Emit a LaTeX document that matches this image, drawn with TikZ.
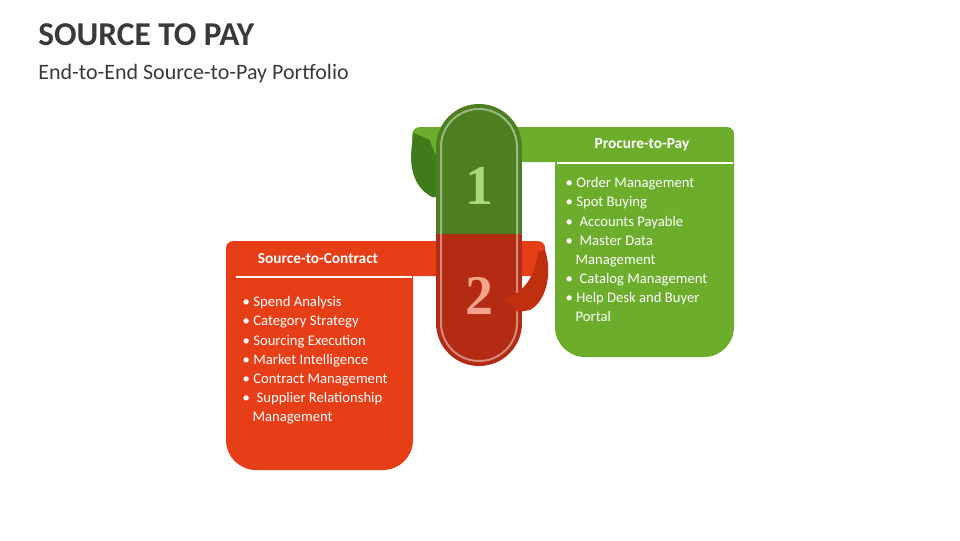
\documentclass[tikz,border=0pt]{standalone}
\usepackage{fontspec}
\setmainfont{Carlito}
\newfontfamily\numfont{Liberation Serif}
\definecolor{gband}{HTML}{6CAD2B}
\definecolor{gdark}{HTML}{4D7F21}
\definecolor{gcurl}{HTML}{3F7A1C}
\definecolor{rband}{HTML}{E63E17}
\definecolor{rdark}{HTML}{B22B12}
\definecolor{rcurl}{HTML}{C0300F}
\definecolor{titlec}{HTML}{3A3A3A}
\definecolor{numg}{HTML}{A9D77A}
\definecolor{numr}{HTML}{F5A38A}
\begin{document}
\begin{tikzpicture}[x=0.75pt,y=-0.75pt,
  hdr/.style={text=white,font=\bfseries\fontsize{11.5}{13}\selectfont},
  lst/.style={text=white,font=\fontsize{11}{14.3}\selectfont,align=left,anchor=north west},
  sep/.style={white,line width=1.2pt}]
\useasboundingbox (0,0) rectangle (960,540);
\node[anchor=west,inner sep=0,text=titlec,font=\bfseries\fontsize{25}{28}\selectfont] (title) at (38,35) {SOURCE TO PAY};
\node[anchor=west,inner sep=0,text=titlec,font=\fontsize{16.5}{19}\selectfont] (sub) at (38,74) {End-to-End Source-to-Pay Portfolio};
% green band and box
\fill[gband] (420,127) -- (727,127) arc[start angle=270,end angle=360,radius=7] -- (734,327) arc[start angle=0,end angle=90,radius=30] -- (585,357) arc[start angle=90,end angle=180,radius=30] -- (555,162) -- (420,162) -- cycle;
\fill[gband,rounded corners=6] (412,127) rectangle (450,162);
\draw[sep] (557,163) -- (733,163);
% green curl
\fill[gcurl] (414,133) .. controls (408,160) and (410,185) .. (432,197) -- (440,197) .. controls (452,190) and (462,185) .. (470,182) .. controls (450,180) and (435,160) .. (430,140) -- cycle;
% red band and box
\fill[rband] (226,248) arc[start angle=180,end angle=270,radius=7] -- (538,241) arc[start angle=270,end angle=360,radius=7] -- (545,276) -- (413,276) -- (413,440) arc[start angle=0,end angle=90,radius=30] -- (256,470) arc[start angle=90,end angle=180,radius=30] -- cycle;
\draw[sep] (236,277) -- (412,277);
% pill
\begin{scope}
\clip (436,147) arc[start angle=180,end angle=360,radius=43] -- (522,323) arc[start angle=0,end angle=180,radius=43] -- cycle;
\fill[gdark] (436,100) rectangle (522,234);
\fill[rdark] (436,234) rectangle (522,370);
\end{scope}
\draw[white,opacity=0.45,line width=1.5pt] (441,147) arc[start angle=180,end angle=360,radius=38] -- (517,323) arc[start angle=0,end angle=180,radius=38] -- cycle;
% red curl
\fill[rcurl] (545,250) .. controls (552,270) and (548,300) .. (530,310) -- (518,312) .. controls (512,305) and (505,302) .. (500,300) .. controls (520,296) and (535,280) .. (538,252) -- cycle;
\node[text=numg,font=\numfont\bfseries\fontsize{42}{42}\selectfont] (n1) at (479,186) {1};
\node[text=numr,font=\numfont\bfseries\fontsize{42}{42}\selectfont] (n2) at (479,296) {2};
\node[hdr] (h1) at (642,145) {Procure-to-Pay};
\node[hdr] (h2) at (318,259) {Source-to-Contract};
\node[lst] (l1) at (561,173) {• Order Management\\• Spot Buying\\•\ \ Accounts Payable\\•\ \ Master Data\\\ \ \ Management\\•\ \ Catalog Management\\• Help Desk and Buyer\\\ \ \ Portal};
\node[lst] (l2) at (238,292) {• Spend Analysis\\• Category Strategy\\• Sourcing Execution\\• Market Intelligence\\• Contract Management\\•\ \ Supplier Relationship\\\ \ \ Management};
\end{tikzpicture}
\end{document}
